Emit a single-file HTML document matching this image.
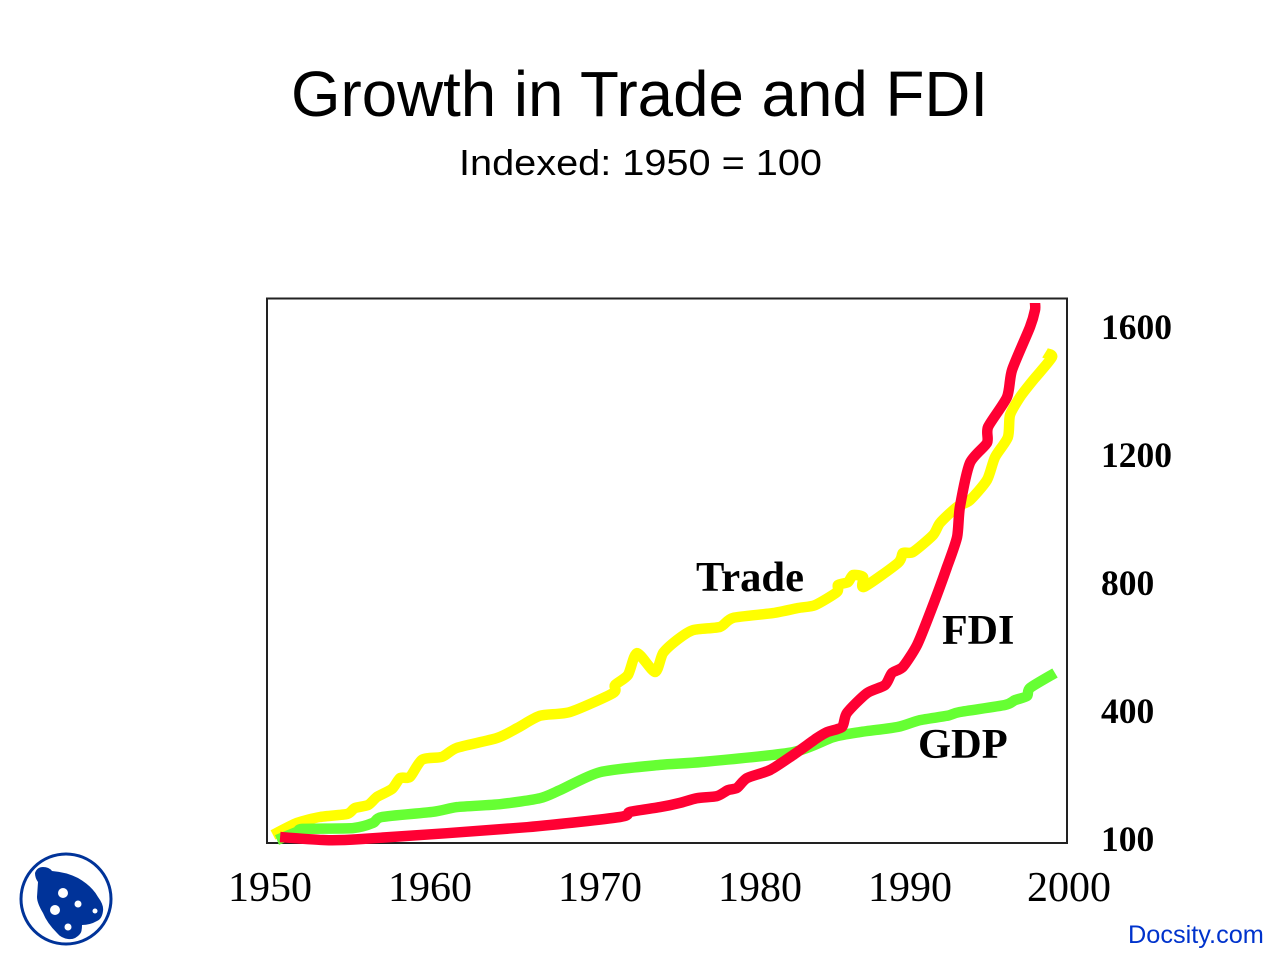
<!DOCTYPE html>
<html lang="en">
<head>
<meta charset="utf-8">
<title>Growth in Trade and FDI</title>
<style>
  html, body { margin: 0; padding: 0; background: #fff; }
  body { width: 1280px; height: 960px; overflow: hidden; }
  svg { display: block; }
  .serif { font-family: "Liberation Serif", serif; fill: #000; }
  .sans { font-family: "Liberation Sans", sans-serif; fill: #000; }
</style>
</head>
<body>
<svg id="chart" xmlns="http://www.w3.org/2000/svg" width="1280" height="960" viewBox="0 0 1280 960">
  <rect x="0" y="0" width="1280" height="960" fill="#ffffff"/>
  <text class="sans" x="291" y="116" font-size="64" textLength="697" lengthAdjust="spacingAndGlyphs">Growth in Trade and FDI</text>
  <text class="sans" x="459" y="175" font-size="36" textLength="363" lengthAdjust="spacingAndGlyphs">Indexed: 1950 = 100</text>
  <rect x="267" y="298.5" width="800" height="544.5" fill="#ffffff" stroke="#222222" stroke-width="2"/>
  <g id="series-layer"></g>
  <g id="x-axis"></g>
  <g id="y-axis"></g>
  <text class="serif" x="696" y="591" font-size="42" font-weight="bold" textLength="108" lengthAdjust="spacingAndGlyphs">Trade</text>
  <text class="serif" x="942" y="644" font-size="42" font-weight="bold">FDI</text>
  <text class="serif" x="918" y="758" font-size="42.5" font-weight="bold">GDP</text>
  <g>
    <circle cx="66" cy="899" r="45" fill="#ffffff" stroke="#003399" stroke-width="3"/>
    <path d="M35 873 Q37 867 43 867 Q49 867 52 871 Q66 872 78 878 Q92 886 98 897 Q104 905 103 911 Q102 919 97 921 Q90 925 82 925 Q82 932 80 934 Q75 940 68 939 Q61 938 57 933 Q47 923 43 913 Q37 903 37 897 L38 882 Q35 878 35 873 Z" fill="#003399"/>
    <circle cx="63" cy="893" r="5" fill="#ffffff"/>
    <circle cx="55" cy="910" r="5" fill="#ffffff"/>
    <circle cx="78" cy="904" r="3.5" fill="#ffffff"/>
    <circle cx="95" cy="911" r="2.5" fill="#ffffff"/>
    <circle cx="68" cy="927" r="3.5" fill="#ffffff"/>
  </g>
  <text x="1128" y="943" font-family="'Liberation Sans', sans-serif" font-size="25.3" fill="#0033cc">Docsity.com</text>
</svg>
<script>
const xTickLabels = [1950, 1960, 1970, 1980, 1990, 2000];
const yTickLabels = [100, 400, 800, 1200, 1600];

const tradeYears = [1950.19, 1951.69, 1953.13, 1954.81, 1955.31, 1956.13, 1956.69, 1957.63, 1958.13, 1958.75, 1959.5, 1960.71, 1961.59, 1963.94, 1965.12, 1966.47, 1968.24, 1970.81, 1970.94, 1971.75, 1972.31, 1973.44, 1973.94, 1974.81, 1975.81, 1977.5, 1978.31, 1980.87, 1982.53, 1983.67, 1985.13, 1985.2, 1985.87, 1986.2, 1986.87, 1986.93, 1989.2, 1989.53, 1990.19, 1991.45, 1991.89, 1992.96, 1993.77, 1994.84, 1995.35, 1996.16, 1996.29, 1996.92, 1997.74, 1998.93, 1998.49];
const tradeValues = [112, 140, 154, 161, 175, 182, 201, 220, 245, 248, 288, 295, 316, 339, 362, 391, 400, 459, 484, 516, 584, 525, 584, 625, 656, 666, 694, 709, 725, 734, 775, 797, 806, 828, 822, 791, 866, 897, 900, 953, 991, 1041, 1062, 1125, 1197, 1259, 1328, 1384, 1437, 1509, 1522];

const gdpYears = [1950.44, 1951.69, 1952.06, 1955.19, 1956.44, 1957, 1960.18, 1961.59, 1964.12, 1966.47, 1967.65, 1970, 1973.75, 1976.44, 1982.2, 1984.87, 1986.67, 1989.2, 1990.63, 1992.33, 1993.14, 1995.97, 1996.6, 1997.36, 1997.55, 1999.12];
const gdpValues = [100, 119, 126, 128, 140, 154, 166, 177, 184, 198, 217, 259, 276, 283, 306, 341, 353, 365, 381, 391, 400, 422, 437, 450, 475, 522];

const fdiYears = [1950.63, 1953.31, 1955.63, 1965.71, 1971.25, 1971.88, 1973.75, 1975, 1976.06, 1977.31, 1978, 1978.56, 1979.19, 1980.67, 1982.2, 1983.8, 1984.47, 1985.47, 1985.8, 1987.13, 1988.33, 1988.8, 1989.53, 1990.44, 1991.26, 1992.33, 1992.96, 1993.14, 1993.77, 1994.84, 1994.91, 1996.1, 1996.42, 1997.55, 1997.86, 1997.86];
const fdiValues = [107, 100, 102, 130, 154, 166, 177, 187, 198, 203, 217, 222, 245, 264, 299, 339, 353, 365, 398, 459, 484, 522, 541, 609, 709, 853, 947, 1041, 1178, 1241, 1291, 1384, 1469, 1603, 1656, 1678];

function piecewise(domain, range) {
  return function (v) {
    let i = 0;
    while (i < domain.length - 2 && v > domain[i + 1]) i++;
    const t = (v - domain[i]) / (domain[i + 1] - domain[i]);
    return range[i] + t * (range[i + 1] - range[i]);
  };
}

// The printed axes are not evenly spaced, so each axis is scaled through its tick anchors.
const xScale = piecewise(xTickLabels, [270, 430, 600, 760, 910, 1069]);
const yScale = piecewise(yTickLabels, [840, 712, 584, 456, 328]);

const NS = 'http://www.w3.org/2000/svg';
const seriesLayer = document.getElementById('series-layer');
const xAxis = document.getElementById('x-axis');
const yAxis = document.getElementById('y-axis');

// Catmull-Rom through the read points, giving the hand-drawn curve of the original.
function smoothPath(pts) {
  let d = 'M' + pts[0][0].toFixed(1) + ' ' + pts[0][1].toFixed(1);
  for (let i = 0; i < pts.length - 1; i++) {
    const p0 = pts[Math.max(i - 1, 0)];
    const p1 = pts[i];
    const p2 = pts[i + 1];
    const p3 = pts[Math.min(i + 2, pts.length - 1)];
    const k = 0.12;
    d += ' C' + (p1[0] + (p2[0] - p0[0]) * k).toFixed(1) + ' ' + (p1[1] + (p2[1] - p0[1]) * k).toFixed(1) +
         ' ' + (p2[0] - (p3[0] - p1[0]) * k).toFixed(1) + ' ' + (p2[1] - (p3[1] - p1[1]) * k).toFixed(1) +
         ' ' + p2[0].toFixed(1) + ' ' + p2[1].toFixed(1);
  }
  return d;
}

function drawSeries(name, years, values, color) {
  const line = document.createElementNS(NS, 'path');
  
  
  line.setAttribute('d', smoothPath(years.map(function (yr, i) {
    return [xScale(yr), yScale(values[i])];
  })));
  line.setAttribute('fill', 'none');
  line.setAttribute('stroke', color);
  line.setAttribute('stroke-width', '10.5');
  line.setAttribute('stroke-linejoin', 'round');
  line.setAttribute('stroke-linecap', 'butt');
  seriesLayer.appendChild(line);
}

drawSeries('trade-line', tradeYears, tradeValues, '#ffff00');
drawSeries('gdp-line', gdpYears, gdpValues, '#66ff33');
drawSeries('fdi-line', fdiYears, fdiValues, '#ff0033');

xTickLabels.forEach(function (label) {
  const t = document.createElementNS(NS, 'text');
  
  
  t.setAttribute('class', 'serif');
  t.setAttribute('x', xScale(label));
  t.setAttribute('y', 901);
  t.setAttribute('font-size', '42');
  t.setAttribute('text-anchor', 'middle');
  t.textContent = label;
  xAxis.appendChild(t);
});

yTickLabels.forEach(function (label) {
  const t = document.createElementNS(NS, 'text');
  
  
  t.setAttribute('class', 'serif');
  t.setAttribute('x', 1101);
  t.setAttribute('y', yScale(label) + 11);
  t.setAttribute('font-size', '35.5');
  t.setAttribute('font-weight', 'bold');
  t.textContent = label;
  yAxis.appendChild(t);
});
</script>
</body>
</html>
